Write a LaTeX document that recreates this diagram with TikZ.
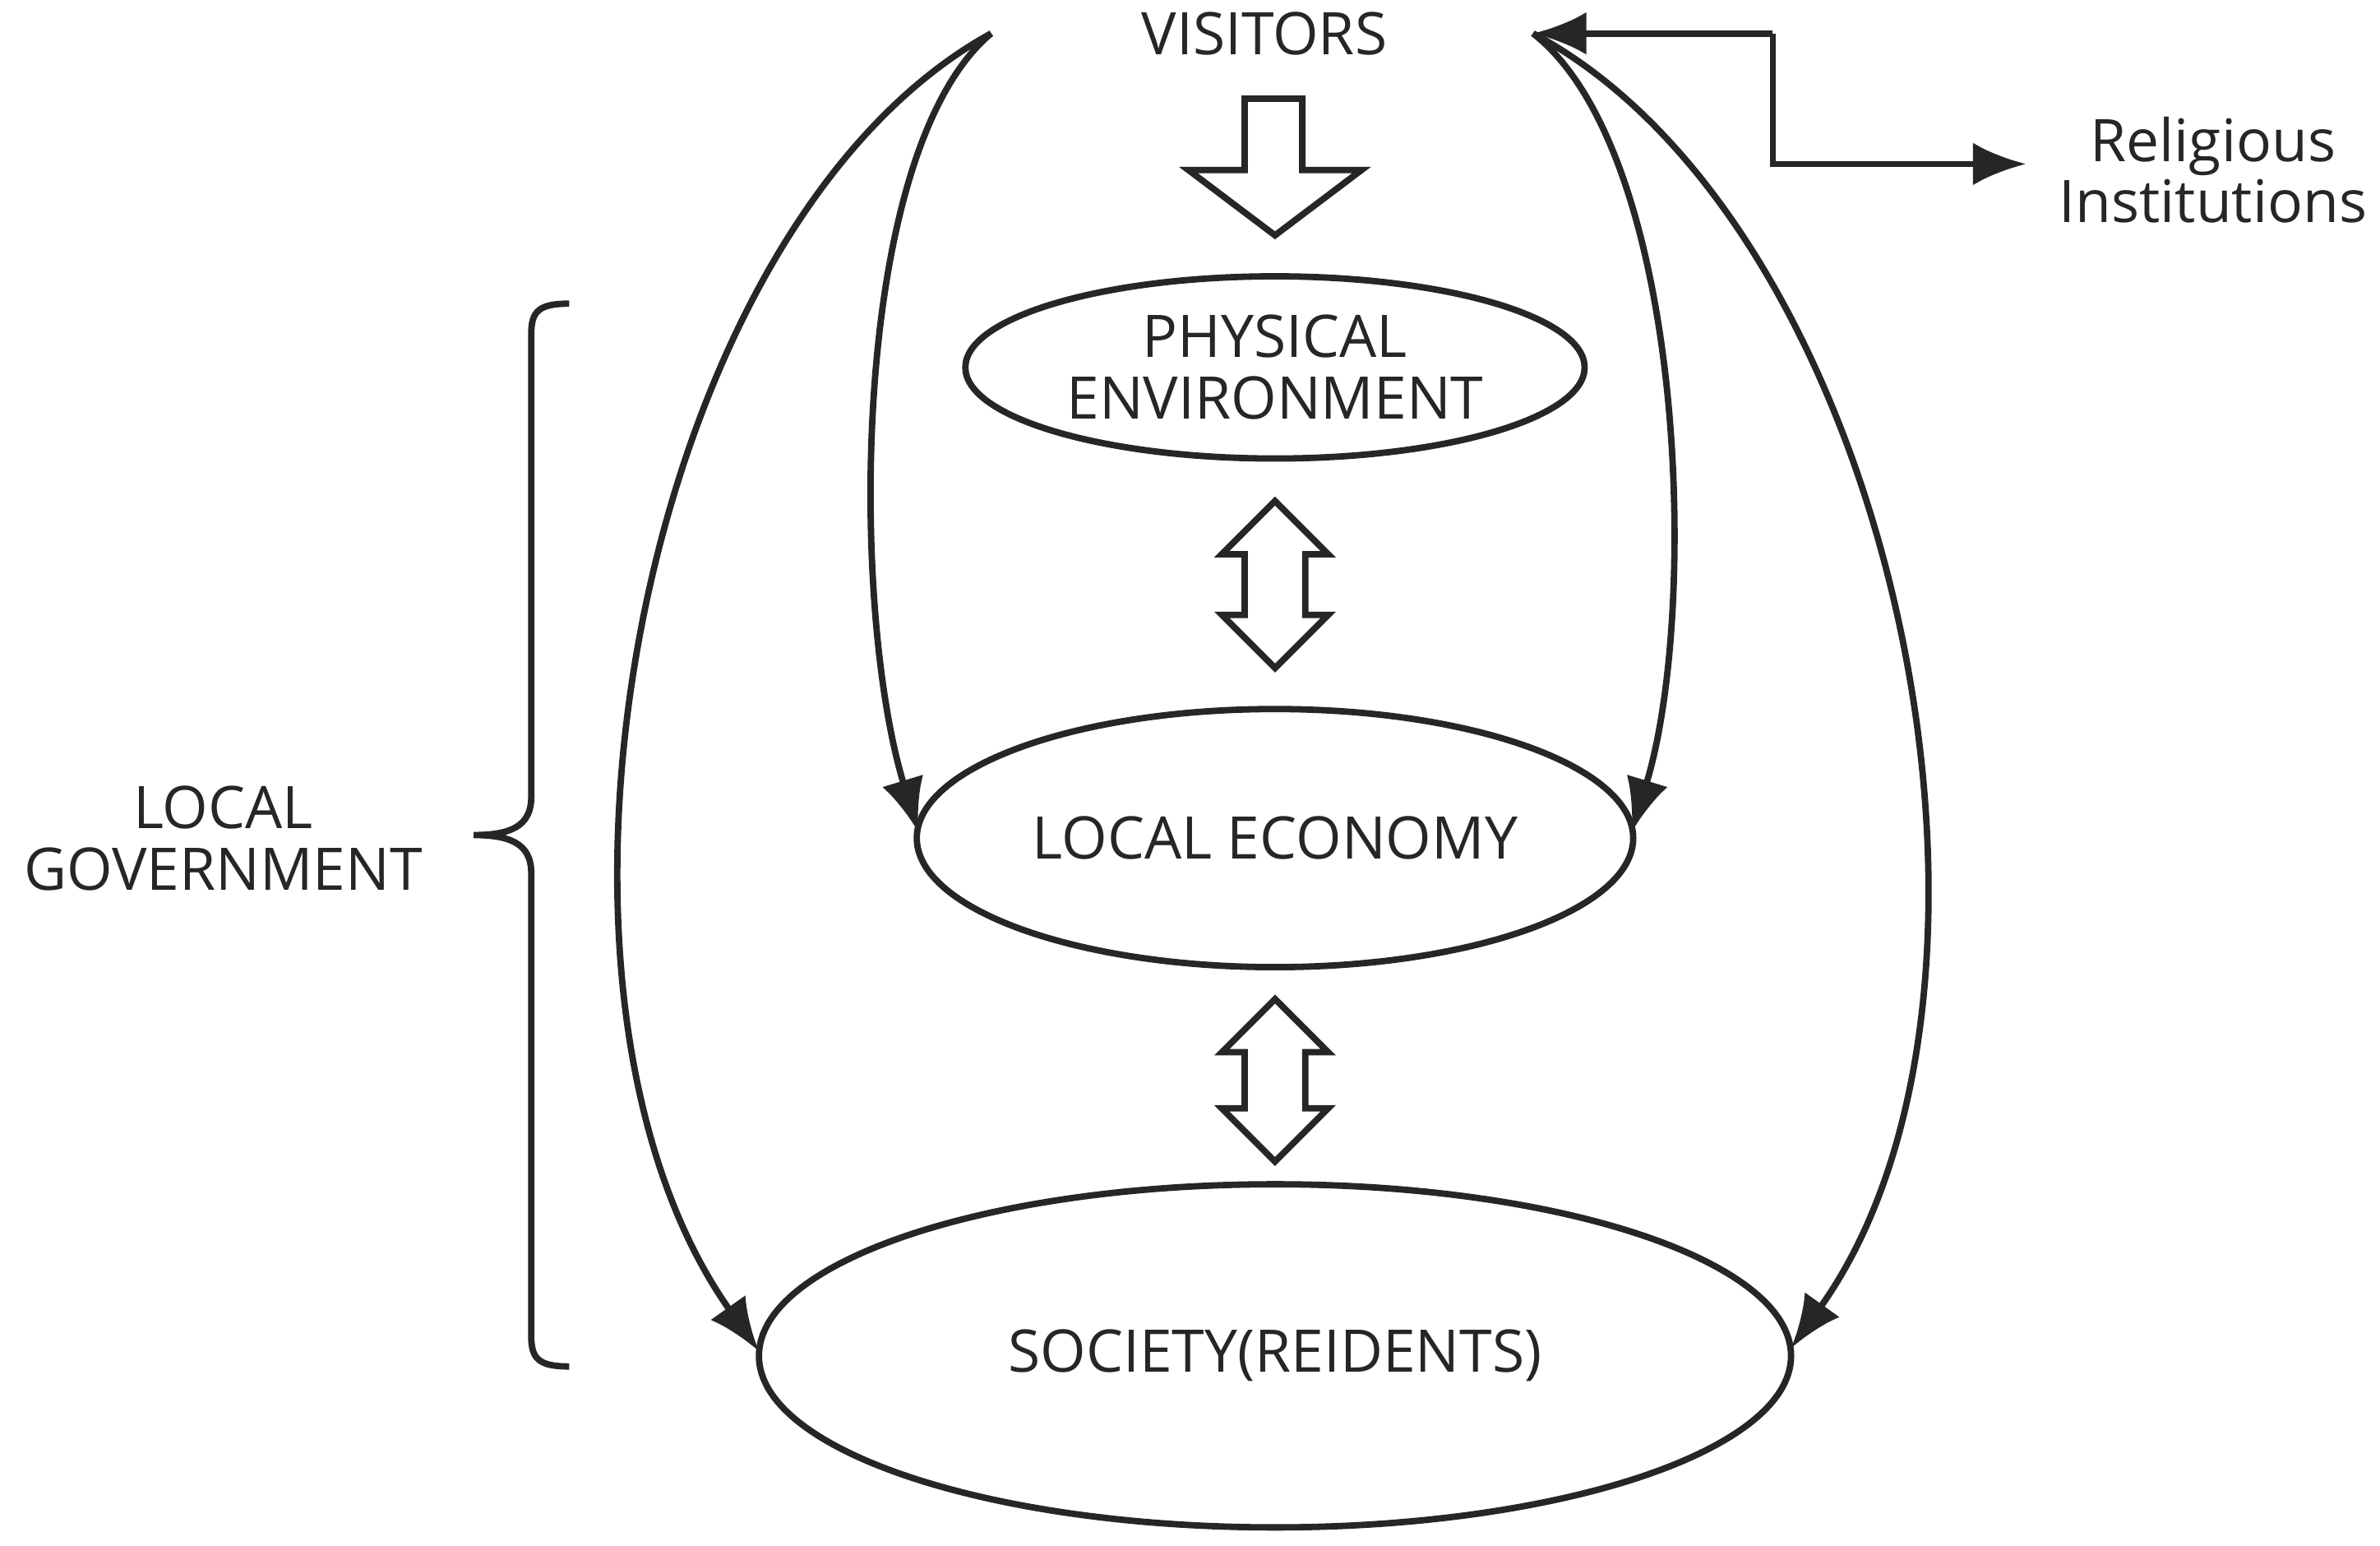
\documentclass[tikz,border=0pt]{standalone}
\usepackage{fontspec}
\setmainfont{Open Sans}
\usetikzlibrary{arrows.meta}
\begin{document}
\begin{tikzpicture}[x=0.01cm,y=-0.01cm,
  line/.style={draw=black!85,line width=1.2pt},
  tip/.style={-{Latex[length=10pt,width=8pt]}},
  lbl/.style={font=\fontsize{11}{13.5}\selectfont,text=black!85,align=center}]
\useasboundingbox (0,0) rectangle (1568,1018);
% ellipses
\draw[line] (840,242) ellipse [x radius=204,y radius=60];
\draw[line] (840,552) ellipse [x radius=236,y radius=85];
\draw[line] (840,893) ellipse [x radius=340,y radius=113];
\node[lbl] (phys) at (840,242) {PHYSICAL\\[-2pt]ENVIRONMENT};
\node[lbl] (econ) at (840,552) {LOCAL ECONOMY};
\node[lbl] (soc) at (840,893) {SOCIETY(REIDENTS)};
\node[lbl] (vis) at (833,22) {VISITORS};
\node[lbl] (rel) at (1458,112) {Religious\\[-2pt]Institutions};
\node[lbl] (gov) at (147,552) {LOCAL\\[-2pt]GOVERNMENT};
% hollow arrows
\draw[line] (820,65)--(858,65)--(858,112)--(897,112)--(840,155)--(783,112)--(820,112)--cycle;
\draw[line] (840,330)--(875,365)--(860,365)--(860,405)--(875,405)--(840,440)--(805,405)--(820,405)--(820,365)--(805,365)--cycle;
\draw[line] (840,658)--(875,693)--(860,693)--(860,730)--(875,730)--(840,765)--(805,730)--(820,730)--(820,693)--(805,693)--cycle;
% curves
\coordinate (vl) at (653,22); \coordinate (vr) at (1010,22);
\coordinate (el) at (605,548); \coordinate (er) at (1075,548);
\coordinate (sl) at (500,890); \coordinate (sr) at (1180,888);
\draw[line,tip] (vl) .. controls (560,100) and (560,400) .. (el);
\draw[line,tip] (vl) .. controls (420,150) and (330,650) .. (sl);
\draw[line,tip] (vr) .. controls (1110,100) and (1120,400) .. (er);
\draw[line,tip] (vr) .. controls (1250,150) and (1350,650) .. (sr);
\coordinate (r1) at (1168,22); \coordinate (r2) at (1168,108);
\draw[line,tip] (r1) -- (vr);
\draw[line,tip] (r1) -- (r2) -- (1335,108);
% brace
\draw[line] (375,200) .. controls (355,200) and (350,205) .. (350,220) -- (350,525)
  .. controls (350,545) and (335,550) .. (312,550)
  .. controls (335,550) and (350,555) .. (350,575) -- (350,880)
  .. controls (350,895) and (355,900) .. (375,900);
\end{tikzpicture}
\end{document}
